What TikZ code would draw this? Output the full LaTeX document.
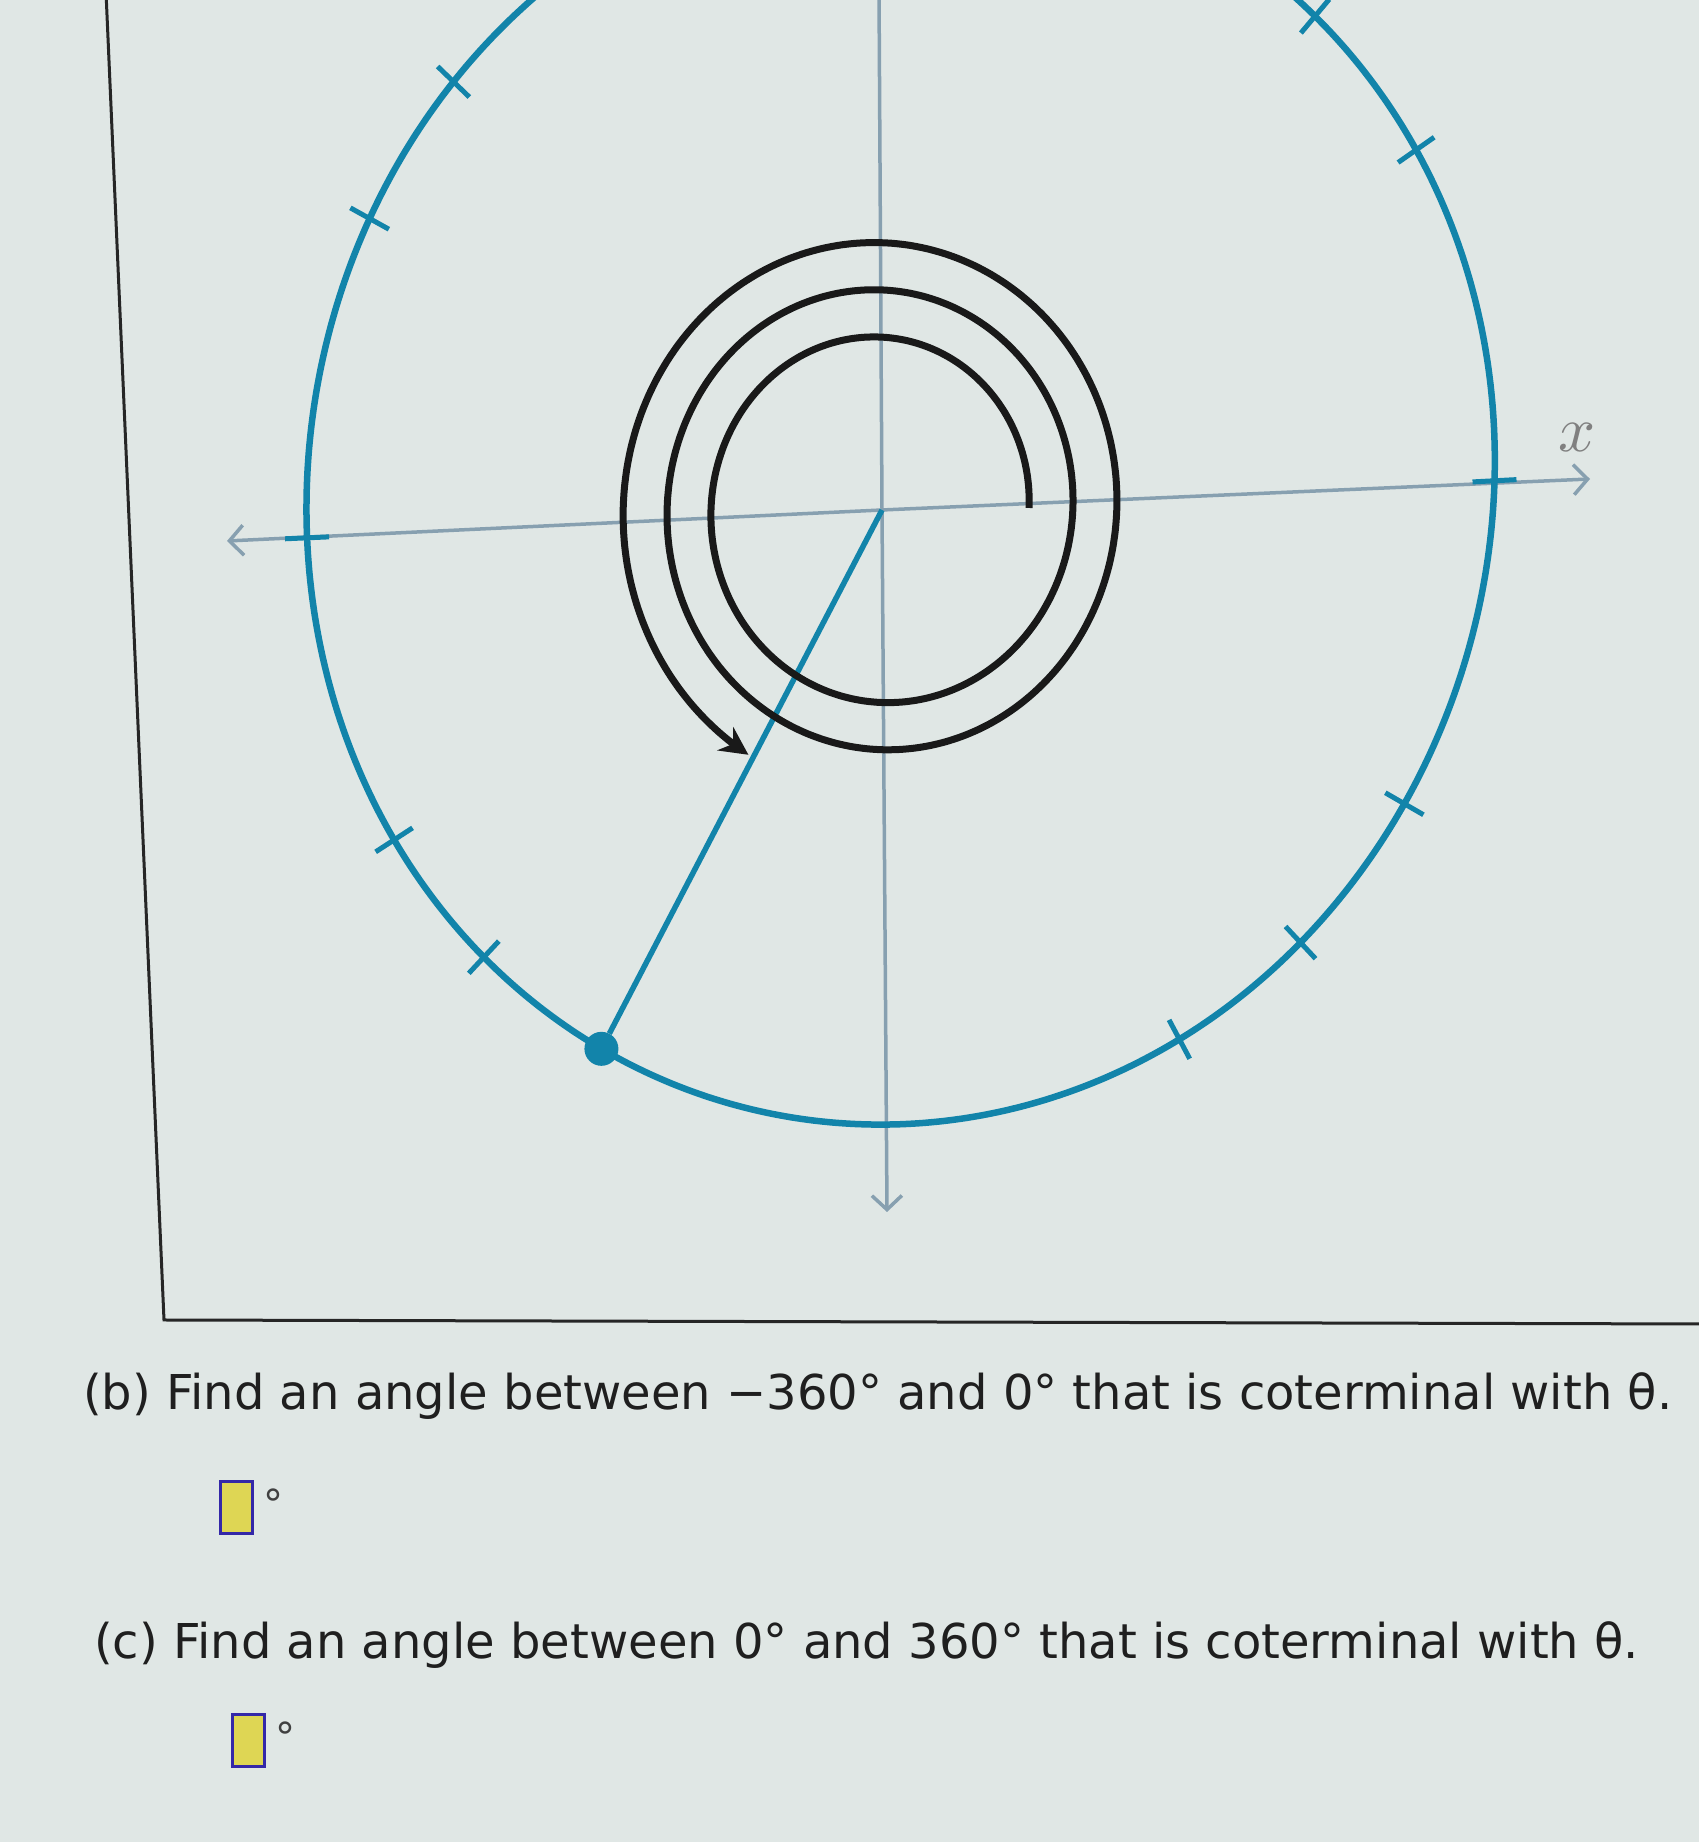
\documentclass[tikz,border=0pt]{standalone}
\usepackage{fontspec}
\setmainfont{DejaVu Sans}
\usetikzlibrary{arrows.meta, positioning}
\definecolor{fondo}{RGB}{224,231,229}
\definecolor{azul}{RGB}{18,132,170}
\definecolor{eje}{RGB}{135,160,176}
\definecolor{amarillo}{RGB}{222,214,84}
\definecolor{borde}{RGB}{52,40,168}
\tikzstyle{circulo} = [azul, line width=6.5pt]
\tikzstyle{marca} = [azul, line width=5pt]
\tikzstyle{rayo} = [azul, line width=5.5pt]
\tikzstyle{punto} = [circle, fill=azul, minimum size=34pt, inner sep=0pt]
\tikzstyle{axis} = [eje, line width=3.5pt]
\tikzstyle{flecha} = [-{Straight Barb[length=14pt,width=30pt]}]
\tikzstyle{espiral} = [black!90, line width=7pt, -{Stealth[length=28pt,width=28pt]}]
\tikzstyle{marco} = [black!85, line width=3pt]
\tikzstyle{pregunta} = [anchor=base west, inner sep=0pt, font=\fontsize{48}{56}\selectfont, text=black!88]
\tikzstyle{caja} = [draw=borde, fill=amarillo, line width=3pt, minimum width=32pt, minimum height=52pt, inner sep=0pt]
\tikzstyle{grado} = [inner sep=0pt, font=\fontsize{40}{46}\selectfont, text=black!75]
% radio del circulo (la foto lo deforma un poco)
\tikzset{declare function={radio(\t)=614.6+0.67*cos(\t)+23.7*sin(\t)-21.4*cos(2*\t)+10.5*sin(2*\t);}}

\begin{document}
\begin{tikzpicture}[x=1pt, y=1pt]
\useasboundingbox (0,0) rectangle (1699,1842);
\fill[fondo] (0,0) rectangle (1699,1842);
\clip (0,0) rectangle (1699,1842);

% Marco
\draw[marco] (106,1850) -- (164,522) -- (1705,518);

% Ejes
\coordinate (O) at (882,1332);
\coordinate (xizq) at (227,1301);
\coordinate (xder) at (1590,1363);
\coordinate (yarr) at (879,1850);
\coordinate (yaba) at (887,630);
\draw[axis, flecha] (O) -- (xizq);
\draw[axis, flecha] (O) -- (xder);
\draw[axis] (O) -- (yarr);
\draw[axis, flecha] (O) -- (yaba);
\node (etiqx) [text=black!50] at (1577,1404) {\scalebox{6.5}{$x$}};

% Circulo y marcas
\draw[circulo] plot[domain=0:358, samples=180, smooth cycle]
  ({899+radio(\x)*cos(\x)}, {1330+radio(\x)*sin(\x)});
\foreach \a in {3,35,50,64,118,136,151,182.5,213,227,298,313,330}
  \draw[marca] ({899+(radio(\a)-22)*cos(\a)}, {1330+(radio(\a)-22)*sin(\a)})
    -- ({899+(radio(\a)+22)*cos(\a)}, {1330+(radio(\a)+22)*sin(\a)});
\node (P) [punto] at ({899+radio(241)*cos(241)}, {1330+radio(241)*sin(241)}) {};
\draw[rayo] (O) -- (P);

% Espiral
\draw[espiral] plot[domain=0:960, samples=240, smooth]
  ({881+(148+0.122*\x)*cos(\x)}, {1334+1.075*(148+0.122*\x)*sin(\x)});

% Preguntas
\node (pregb) [pregunta] at (83,432) {(b) Find an angle between −360° and 0° that is coterminal with θ.};
\node (cajab) [caja] at (236,334) {};
\node (gradob) [grado, right=10pt of cajab.north east, anchor=north west, yshift=-8pt] {°};
\node (pregc) [pregunta] at (94,183) {(c) Find an angle between 0° and 360° that is coterminal with θ.};
\node (cajac) [caja] at (248,101) {};
\node (gradoc) [grado, right=10pt of cajac.north east, anchor=north west, yshift=-8pt] {°};
\end{tikzpicture}
\end{document}
